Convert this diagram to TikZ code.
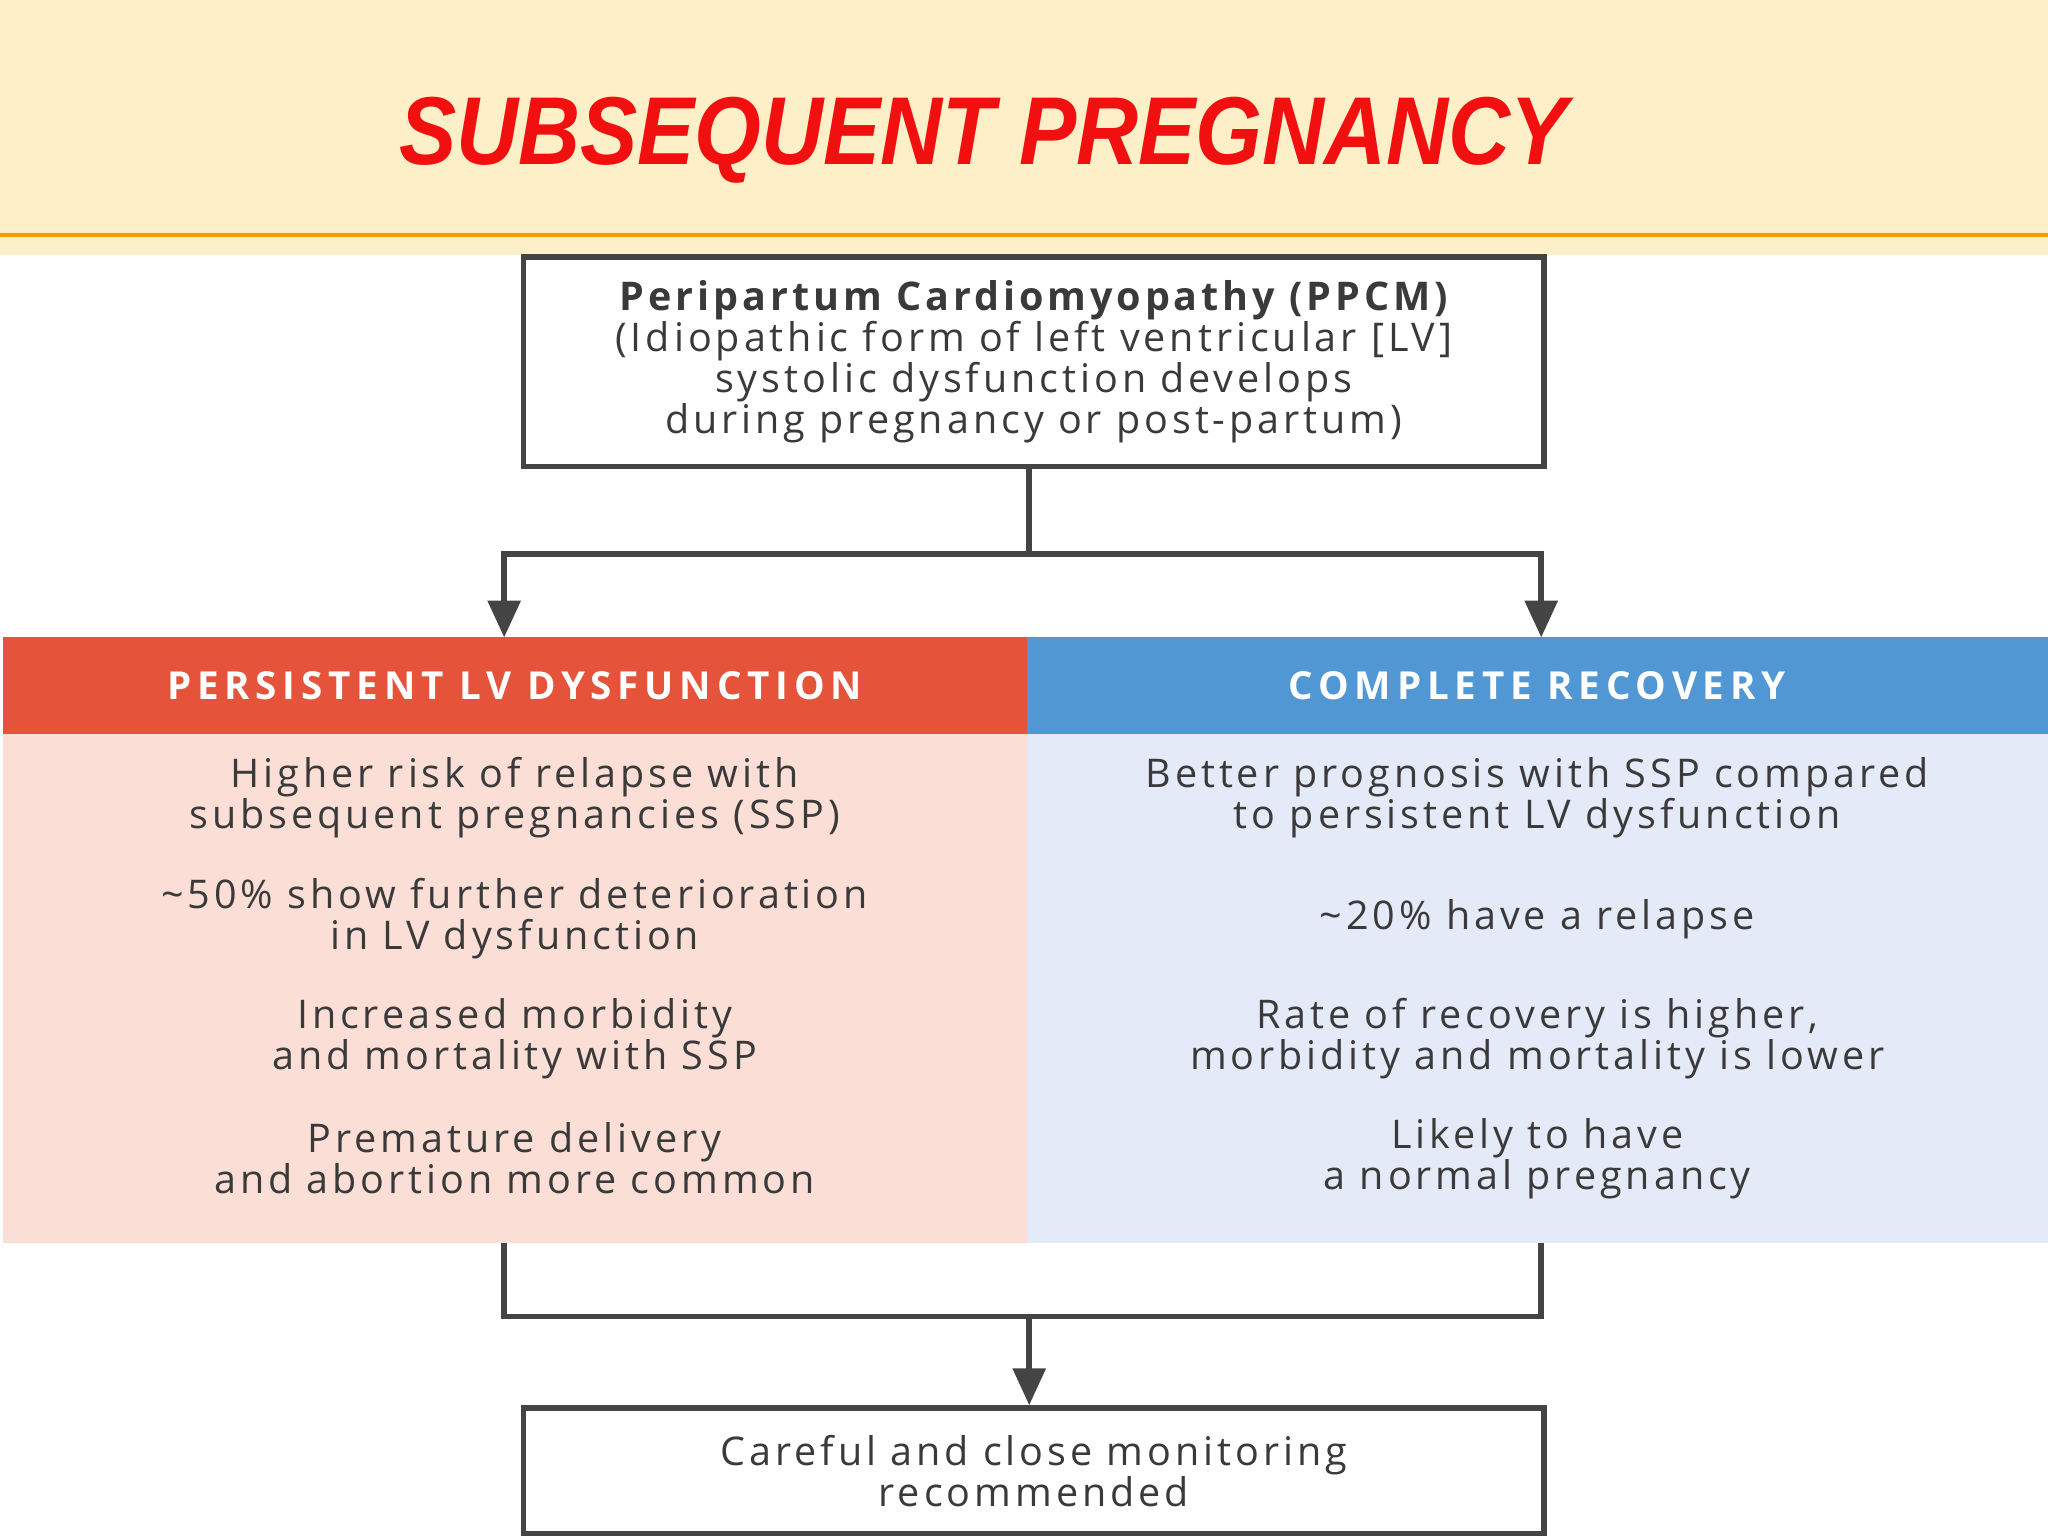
\documentclass[tikz,border=0pt]{standalone}
\usepackage{fontspec}
\setmainfont{Open Sans}[LetterSpace=10]
\newfontfamily\hdrfont{Open Sans}[LetterSpace=15]
\newfontfamily\titlefont{Liberation Sans}
\usetikzlibrary{arrows.meta}
\definecolor{banner}{HTML}{FDF0C9}
\definecolor{ttl}{HTML}{F20F0F}
\definecolor{redh}{HTML}{E5533B}
\definecolor{blueh}{HTML}{5097D3}
\definecolor{pinkp}{HTML}{FBDED6}
\definecolor{bluep}{HTML}{E4EAF7}
\definecolor{ln}{HTML}{444444}
\definecolor{txt}{HTML}{3A3A3A}
\tikzset{
  txtn/.style={align=center,text=txt,font=\fontsize{8.6}{8.9}\selectfont,inner sep=0pt},
  hdr/.style={text=white,font=\hdrfont\fontsize{8.4}{10}\selectfont\bfseries,inner sep=0pt},
  box/.style={draw=ln,line width=1.2pt,fill=white},
  conn/.style={draw=ln,line width=1.2pt},
  arr/.style={conn,-{Triangle[length=8pt,width=7pt]}}
}
\begin{document}
\begin{tikzpicture}[x=0.01cm,y=-0.01cm]
\useasboundingbox (0,0) rectangle (1568,1176);
\fill[white] (0,0) rectangle (1568,1176);
\fill[banner] (0,0) rectangle (1568,195);
\draw[orange!80!yellow,line width=0.8pt] (0,180) -- (1568,180);
\node[text=ttl,font=\titlefont\fontsize{21}{24}\selectfont\bfseries\itshape,xscale=0.89] (title) at (753,107) {SUBSEQUENT PREGNANCY};
% panels
\fill[redh] (2,488) rectangle (786,562);
\fill[blueh] (786,488) rectangle (1568,562);
\fill[pinkp] (2,562) rectangle (786,952);
\fill[bluep] (786,562) rectangle (1568,952);
\node[hdr] (hl) at (394,525) {PERSISTENT LV DYSFUNCTION};
\node[hdr] (hr) at (1177,525) {COMPLETE RECOVERY};
% top box
\node[box,minimum width=7.81cm,minimum height=1.6cm,txtn,inner sep=0pt] (top) at (791.5,277)
 {{\bfseries Peripartum Cardiomyopathy (PPCM)}\\(Idiopathic form of left ventricular [LV]\\systolic dysfunction develops\\during pregnancy or post-partum)};
\node[box,minimum width=7.81cm,minimum height=0.96cm,txtn] (bot) at (791.5,1126)
 {Careful and close monitoring\\recommended};
% texts
\node[txtn] (l1) at (394,611) {Higher risk of relapse with\\subsequent pregnancies (SSP)};
\node[txtn] (l2) at (394,703) {\textasciitilde50\% show further deterioration\\in LV dysfunction};
\node[txtn] (l3) at (394,795) {Increased morbidity\\and mortality with SSP};
\node[txtn] (l4) at (394,887) {Premature delivery\\and abortion more common};
\node[txtn] (r1) at (1177,611) {Better prognosis with SSP compared\\to persistent LV dysfunction};
\node[txtn] (r2) at (1177,704) {\textasciitilde20\% have a relapse};
\node[txtn] (r3) at (1177,795) {Rate of recovery is higher,\\morbidity and mortality is lower};
\node[txtn] (r4) at (1177,887) {Likely to have\\a normal pregnancy};
% connectors
\coordinate (s) at (788,424);
\coordinate (ta) at (386,488);
\coordinate (tb) at (1180,488);
\coordinate (ba) at (386,952);
\coordinate (bb) at (1180,952);
\coordinate (m) at (788,1008);
\draw[conn] (top.south -| s) -- (s);
\draw[arr] (s) -| (ta);
\draw[arr] (s) -| (tb);
\draw[conn] (ba) |- (m) -| (bb);
\draw[arr] (m) -- (bot.north -| m);
\end{tikzpicture}
\end{document}
